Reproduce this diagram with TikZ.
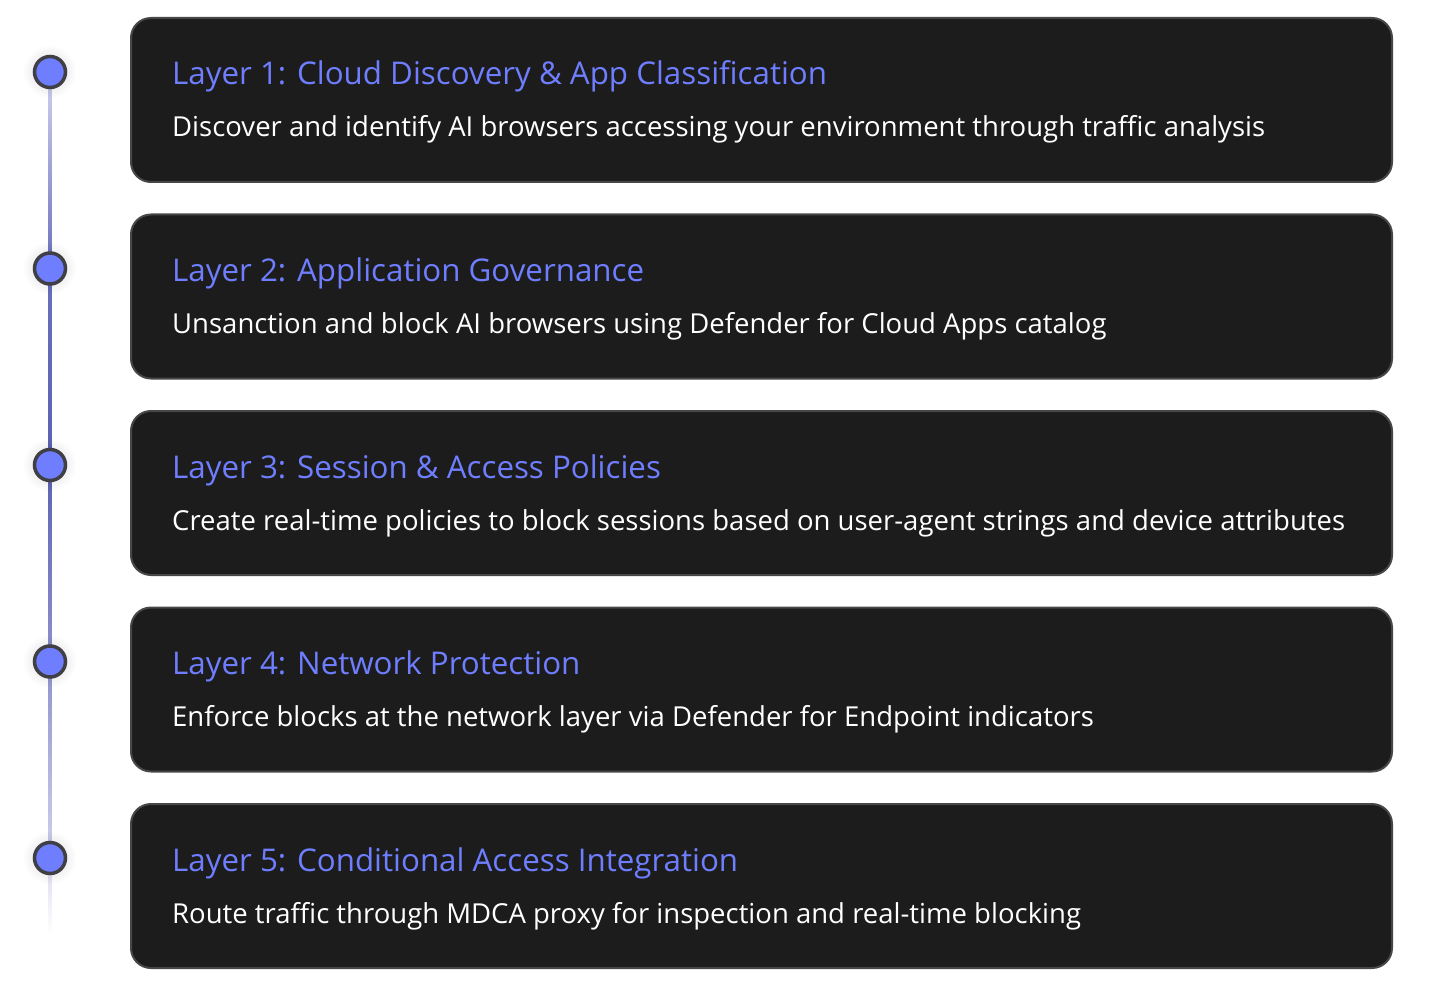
\documentclass[tikz,border=0pt]{standalone}
\usepackage{fontspec}
\setmainfont{Open Sans}
\usetikzlibrary{calc,positioning}
\definecolor{layerblue}{HTML}{6E7EFF}
\definecolor{boxfill}{HTML}{1C1C1C}
\definecolor{boxedge}{HTML}{474747}
\definecolor{dotedge}{HTML}{3F3F45}
\tikzset{
  layerbox/.style={draw=boxedge, line width=2pt, fill=boxfill, rounded corners=20pt,
    minimum width=1261pt, minimum height=164pt, inner sep=0pt},
  layerdot/.style={circle, draw=dotedge, line width=3.5pt, fill=layerblue,
    minimum size=31pt, inner sep=0pt},
  titletext/.style={anchor=base west, inner sep=0pt, text=layerblue,
    font=\fontsize{31.3}{36}\selectfont},
  desctext/.style={anchor=base west, inner sep=0pt, text=white,
    font=\fontsize{27.5}{32}\selectfont}
}
\begin{document}
\begin{tikzpicture}[x=1pt,y=-1pt]
    \useasboundingbox[fill=white] (0,0) rectangle (1440,984);
    % Boxes and dots
    \foreach \i/\ttl/\dsc in {
      1/{Layer 1: Cloud Discovery \& App Classification}/{Discover and identify AI browsers accessing your environment through traffic analysis},
      2/{Layer 2: Application Governance}/{Unsanction and block AI browsers using Defender for Cloud Apps catalog},
      3/{Layer 3: Session \& Access Policies}/{Create real-time policies to block sessions based on user-agent strings and device attributes},
      4/{Layer 4: Network Protection}/{Enforce blocks at the network layer via Defender for Endpoint indicators},
      5/{Layer 5: Conditional Access Integration}/{Route traffic through MDCA proxy for inspection and real-time blocking}} {
      \node[layerbox, anchor=north west] (box\i) at (130,{17+196.5*(\i-1)}) {};
      \node[titletext] (title\i) at ($(box\i.north west)+(42,68)$) {\ttl};
      \node[desctext] (desc\i) at ($(box\i.north west)+(42,120)$) {\dsc};
      \coordinate (dotpos\i) at ($(box\i.north west)+(-80,55)$);
    }
    \coordinate (lineend) at ($(dotpos5)+(0,76)$);
    % Timeline
    \foreach \a/\b/\ca/\cb in {1/2/D2D3EE/6A70BC, 2/3/6A70BC/5C62B2, 3/4/5C62B2/8E92CC, 4/5/8E92CC/D0D1EC} {
      \definecolor{segtop}{HTML}{\ca}
      \definecolor{segbot}{HTML}{\cb}
      \shade[top color=segtop, bottom color=segbot]
        ($(dotpos\a)+(-1.5,0)$) rectangle ($(dotpos\b)+(1.5,0)$);
    }
    \definecolor{segtop}{HTML}{D8D9EF}
    \shade[top color=segtop, bottom color=white]
      ($(dotpos5)+(-1.5,0)$) rectangle ($(lineend)+(1.5,0)$);
    % Dots
    \foreach \i in {1,...,5} {
      \foreach \r in {26,24,...,18} {
        \fill[black, opacity=0.01] (dotpos\i) circle (\r);
      }
      \node[layerdot] (dot\i) at (dotpos\i) {};
    }
  \end{tikzpicture}
\end{document}
